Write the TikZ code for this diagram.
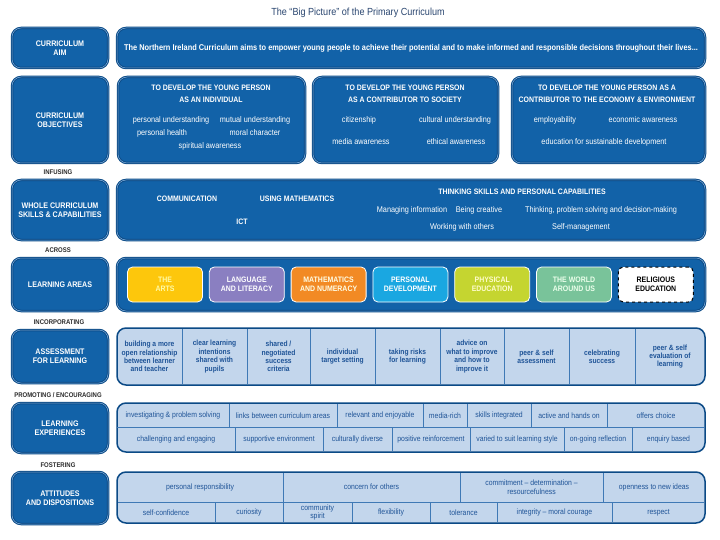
\documentclass[tikz,border=0pt]{standalone}
\usepackage{fontspec}
\setmainfont{Liberation Sans}[FakeStretch=0.88]
\usetikzlibrary{positioning}
\definecolor{CurBlue}{HTML}{1262A8}
\definecolor{CurNavy}{HTML}{0B4A86}
\definecolor{CurLine}{HTML}{7FAEDC}
\definecolor{CellBg}{HTML}{C3D6EC}
\definecolor{CellLine}{HTML}{3F79B5}
\definecolor{CellInk}{HTML}{1F5497}
\definecolor{TitleInk}{HTML}{2A4670}
\definecolor{LinkInk}{HTML}{2B2B2B}
\definecolor{ArtsYel}{HTML}{FDC70C}
\definecolor{LangPur}{HTML}{8A7FC1}
\definecolor{MathOra}{HTML}{F28A24}
\definecolor{PdCyan}{HTML}{1AA7E1}
\definecolor{PeLime}{HTML}{C5D530}
\definecolor{WauGreen}{HTML}{79C39A}

\tikzset{
  darkbox/.style={draw=CurNavy, double=CurLine, double distance=0.5pt, line width=1pt,
    fill=CurBlue, rounded corners=9pt, inner sep=0pt},
  sidelbl/.style={darkbox, minimum width=96pt, text=white, align=center,
    font=\bfseries\fontsize{8.1}{9.4}\selectfont},
  headtxt/.style={text=white, align=center, inner sep=0pt, font=\bfseries\fontsize{7.9}{12}\selectfont},
  itemtxt/.style={text=white, inner sep=0pt, font=\fontsize{8.3}{9}\selectfont},
  linktxt/.style={text=LinkInk, inner sep=0pt, font=\bfseries\fontsize{6.8}{8}\selectfont},
  lacell/.style={draw=white, line width=0.8pt, rounded corners=5pt, minimum width=75pt,
    minimum height=35pt, align=center, inner sep=0pt, font=\bfseries\fontsize{7.9}{9}\selectfont},
  lightbox/.style={draw=CurNavy, line width=1.5pt, fill=CellBg, rounded corners=9pt, inner sep=0pt},
  celltxt/.style={text=CellInk, align=center, inner sep=0pt, font=\fontsize{7.8}{8.6}\selectfont},
  divline/.style={draw=CellLine, line width=0.7pt},
}

\begin{document}
\begin{tikzpicture}[x=1pt, y=-1pt]
\fill[white] (0,0) rectangle (720,540);
\useasboundingbox (0,0) rectangle (720,540);

% title
\node[text=TitleInk, font=\fontsize{10.3}{12}\selectfont] (title) at (358,13)
  {The “Big Picture” of the Primary Curriculum};

% curriculum aim
\node[sidelbl, minimum height=40pt] (aimlbl) at (60,48) {CURRICULUM\\AIM};
\node[darkbox, minimum width=588pt, minimum height=40pt, text=white,
  font=\bfseries\fontsize{8.4}{9.5}\selectfont] (aimtxt) at (411,48)
  {The Northern Ireland Curriculum aims to empower young people to achieve their potential and to make informed and responsible decisions throughout their lives...};

% curriculum objectives
\node[sidelbl, minimum height=86pt] (objlbl) at (60,120) {CURRICULUM\\OBJECTIVES};
\node[darkbox, minimum width=187pt, minimum height=86pt] (objind) at (211.5,120) {};
\node[darkbox, minimum width=185pt, minimum height=86pt] (objsoc) at (405.5,120) {};
\node[darkbox, minimum width=193pt, minimum height=86pt] (objeco) at (608.5,120) {};
\node[headtxt] (indhead) at (211,94) {TO DEVELOP THE YOUNG PERSON\\AS AN INDIVIDUAL};
\node[itemtxt] (persund) at (171,120) {personal understanding};
\node[itemtxt] (mutund) at (255,120) {mutual understanding};
\node[itemtxt] (pershealth) at (162,133) {personal health};
\node[itemtxt] (moralchar) at (255,133) {moral character};
\node[itemtxt] (spiritaw) at (210,146) {spiritual awareness};
\node[headtxt] (sochead) at (405,94) {TO DEVELOP THE YOUNG PERSON\\AS A CONTRIBUTOR TO SOCIETY};
\node[itemtxt] (citizen) at (359,120) {citizenship};
\node[itemtxt] (cultund) at (455,120) {cultural understanding};
\node[itemtxt] (mediaaw) at (361,142) {media awareness};
\node[itemtxt] (ethicaw) at (456,142) {ethical awareness};
\node[headtxt] (ecohead) at (607,94) {TO DEVELOP THE YOUNG PERSON AS A\\CONTRIBUTOR TO THE ECONOMY \& ENVIRONMENT};
\node[itemtxt] (employ) at (555,120) {employability};
\node[itemtxt] (econaw) at (643,120) {economic awareness};
\node[itemtxt] (sustdev) at (604,142) {education for sustainable development};

\node[linktxt] (infusing) at (58,172) {INFUSING};

% whole curriculum skills
\node[sidelbl, minimum height=60pt] (skilllbl) at (60,210) {WHOLE CURRICULUM\\SKILLS \& CAPABILITIES};
\node[darkbox, minimum width=588pt, minimum height=60pt] (skillbox) at (411,210) {};
\node[headtxt] (commun) at (187,199) {COMMUNICATION};
\node[headtxt] (usemath) at (297,199) {USING MATHEMATICS};
\node[headtxt] (ict) at (242,222) {ICT};
\node[headtxt] (tspc) at (522,192) {THINKING SKILLS AND PERSONAL CAPABILITIES};
\node[itemtxt] (maninfo) at (412,210) {Managing information};
\node[itemtxt] (creative) at (479,210) {Being creative};
\node[itemtxt] (probsolv) at (601,210) {Thinking, problem solving and decision-making};
\node[itemtxt] (workoth) at (462,227) {Working with others};
\node[itemtxt] (selfman) at (581,227) {Self-management};

\node[linktxt] (across) at (58,250) {ACROSS};

% learning areas
\node[sidelbl, minimum height=53pt] (arealbl) at (60,284.5) {LEARNING AREAS};
\node[darkbox, minimum width=588pt, minimum height=53pt] (areaband) at (411,284.5) {};
\foreach \lafill/\laink/\latext [count=\n from 0] in {
    ArtsYel/{yellow!35}/{THE\\ARTS},
    LangPur/white/{LANGUAGE\\AND LITERACY},
    MathOra/{white!90!yellow}/{MATHEMATICS\\AND NUMERACY},
    PdCyan/white/{PERSONAL\\DEVELOPMENT},
    PeLime/{yellow!20}/{PHYSICAL\\EDUCATION},
    WauGreen/{white!92!green}/{THE WORLD\\AROUND US}}
  \node[lacell, fill=\lafill, text=\laink] (area\n) at ({165+81.8*\n},284.5) {\latext};
\node[lacell, draw=black, dashed, line width=1pt, fill=white, text=black] (area6) at ({165+81.8*6},284.5)
  {RELIGIOUS\\EDUCATION};

\node[linktxt] (incorp) at (59,322) {INCORPORATING};

% assessment for learning
\node[sidelbl, minimum height=53pt] (afllbl) at (60,356.5) {ASSESSMENT\\FOR LEARNING};
\node[lightbox, minimum width=588pt, minimum height=57pt] (aflbox) at (411,356.5) {};
\foreach \xd in {182,247,310,375,440,504,569,635}
  \draw[divline] (\xd,329) -- (\xd,384);
\foreach \xa/\xb/\celltext [count=\n] in {
    117/182/{building a more\\open relationship\\between learner\\and teacher},
    182/247/{clear learning\\intentions\\shared with\\pupils},
    247/310/{shared /\\negotiated\\success\\criteria},
    310/375/{individual\\target setting},
    375/440/{taking risks\\for learning},
    440/504/{advice on\\what to improve\\and how to\\improve it},
    504/569/{peer \& self\\assessment},
    569/635/{celebrating\\success},
    635/705/{peer \& self\\evaluation of\\learning}}
  \node[celltxt, font=\bfseries\fontsize{7.6}{8.4}\selectfont] (afl\n) at ({(\xa+\xb)/2},356.5) {\celltext};

\node[linktxt] (promote) at (58,395) {PROMOTING / ENCOURAGING};

% learning experiences
\node[sidelbl, minimum height=50pt] (lexplbl) at (60,428) {LEARNING\\EXPERIENCES};
\node[lightbox, minimum width=588pt, minimum height=49pt] (lexpbox) at (411,427.5) {};
\draw[divline] (lexpbox.west) ++(0.8,0) -- ([xshift=-0.8pt]lexpbox.east);
\foreach \xd in {229,337,423,467,531,607}
  \draw[divline] (\xd,404) -- (\xd,427);
\foreach \xd in {235,323,392,470,564,632}
  \draw[divline] (\xd,427) -- (\xd,451);
\foreach \xa/\xb/\celltext [count=\n] in {
    117/229/{investigating \& problem solving},
    229/337/{links between curriculum areas},
    337/423/{relevant and enjoyable},
    423/467/{media-rich},
    467/531/{skills integrated},
    531/607/{active and hands on},
    607/705/{offers choice}}
  \node[celltxt] (lexptop\n) at ({(\xa+\xb)/2},415.5) {\celltext};
\foreach \xa/\xb/\celltext [count=\n] in {
    117/235/{challenging and engaging},
    235/323/{supportive environment},
    323/392/{culturally diverse},
    392/470/{positive reinforcement},
    470/564/{varied to suit learning style},
    564/632/{on-going reflection},
    632/705/{enquiry based}}
  \node[celltxt] (lexpbot\n) at ({(\xa+\xb)/2},439.5) {\celltext};

\node[linktxt] (foster) at (58,465) {FOSTERING};

% attitudes and dispositions
\node[sidelbl, minimum height=52pt] (attlbl) at (60,498) {ATTITUDES\\AND DISPOSITIONS};
\node[lightbox, minimum width=588pt, minimum height=51pt] (attbox) at (411,497.5) {};
\draw[divline] (117.8,502) -- (704.2,502);
\foreach \xd in {283,460,603}
  \draw[divline] (\xd,473) -- (\xd,502);
\foreach \xd in {215,283,352,430,497,612}
  \draw[divline] (\xd,502) -- (\xd,522);
\foreach \xa/\xb/\celltext [count=\n] in {
    117/283/{personal responsibility},
    283/460/{concern for others},
    460/603/{commitment – determination –\\resourcefulness},
    603/705/{openness to new ideas}}
  \node[celltxt] (atttop\n) at ({(\xa+\xb)/2},487) {\celltext};
\foreach \xa/\xb/\celltext [count=\n] in {
    117/215/{self-confidence},
    215/283/{curiosity},
    283/352/{community\\spirit},
    352/430/{flexibility},
    430/497/{tolerance},
    497/612/{integrity – moral courage},
    612/705/{respect}}
  \node[celltxt] (attbot\n) at ({(\xa+\xb)/2},512.5) {\celltext};
\end{tikzpicture}
\end{document}
